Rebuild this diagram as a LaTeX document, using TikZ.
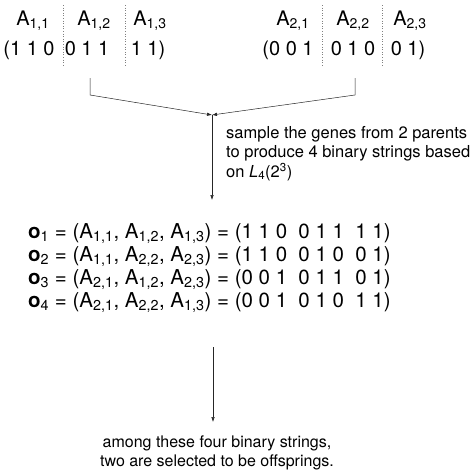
\documentclass[tikz,border=0pt]{standalone}
\usepackage{fontspec}
\setmainfont{TeX Gyre Heros}
\usetikzlibrary{arrows.meta}

\tikzset{
  tip/.style={-{Latex[length=5pt,width=3.5pt]}, line width=0.5pt, black!85},
  sep/.style={dotted, gray, line width=0.6pt},
  lbl/.style={anchor=base, inner sep=0pt},
  eqn/.style={anchor=base west, inner sep=0pt, font=\fontsize{20.5}{23}\selectfont},
  txt/.style={anchor=north west, inner sep=0pt, align=left}
}
\newcommand{\gene}[2]{A\textsubscript{#1,#2}}
\newcommand{\gap}{\hspace{0.55em}}

\begin{document}
\begin{tikzpicture}[x=1pt, y=-1pt, font=\fontsize{20}{23}\selectfont]
            \useasboundingbox (0,0) rectangle (474,474);

            % parent 1
            \node[lbl] (a11) at (33,25) {\gene11};
            \node[lbl] (a12) at (94,25) {\gene12};
            \node[lbl] (a13) at (150,25) {\gene13};
            \node[lbl] (g11) at (29,55) {(1 1 0};
            \node[lbl] (g12) at (87,55) {0 1 1};
            \node[lbl] (g13) at (148,55) {1 1)};
            \draw[sep] (63,5) -- (63,65);
            \draw[sep] (125,5) -- (125,65);

            % parent 2
            \node[lbl] (a21) at (293,25) {\gene21};
            \node[lbl] (a22) at (353,25) {\gene22};
            \node[lbl] (a23) at (410,25) {\gene23};
            \node[lbl] (g21) at (288,55) {(0 0 1};
            \node[lbl] (g22) at (353,55) {0 1 0};
            \node[lbl] (g23) at (408,55) {0 1)};
            \draw[sep] (322,5) -- (322,65);
            \draw[sep] (382,5) -- (382,65);

            % crossover
            \coordinate (ltop) at (90,78);
            \coordinate (lbend) at (90,95);
            \coordinate (rtop) at (355,78);
            \coordinate (rbend) at (355,95);
            \coordinate (merge) at (212,115);
            \coordinate (down) at (212,200);
            \draw[tip] (ltop) -- (lbend) -- (merge);
            \draw[tip] (rtop) -- (rbend) -- (merge);
            \draw[tip] (merge) -- (down);
            \node[txt, font=\fontsize{16.5}{19.5}\selectfont] (sample) at (226,126) {sample the genes from 2 parents\\
                to produce 4 binary strings based\\
                on \textit{L}\textsubscript{4}(2\textsuperscript{3})};

            % offspring candidates
            \node[eqn] (o1) at (28,238) {\textbf{o}\textsubscript{1} = (\gene11, \gene12, \gene13) = (1 1 0\gap 0 1 1\gap 1 1)};
            \node[eqn] (o2) at (28,261) {\textbf{o}\textsubscript{2} = (\gene11, \gene22, \gene23) = (1 1 0\gap 0 1 0\gap 0 1)};
            \node[eqn] (o3) at (28,284) {\textbf{o}\textsubscript{3} = (\gene21, \gene12, \gene23) = (0 0 1\gap 0 1 1\gap 0 1)};
            \node[eqn] (o4) at (28,307) {\textbf{o}\textsubscript{4} = (\gene21, \gene22, \gene13) = (0 0 1\gap 0 1 0\gap 1 1)};

            % selection
            \coordinate (stop) at (213,347);
            \coordinate (send) at (213,422);
            \draw[tip] (stop) -- (send);
            \node[anchor=north, inner sep=0pt, align=center, font=\fontsize{16}{19}\selectfont] (select) at (217,436) {among these four binary strings,\\two are selected to be offsprings.};
        \end{tikzpicture}
\end{document}
